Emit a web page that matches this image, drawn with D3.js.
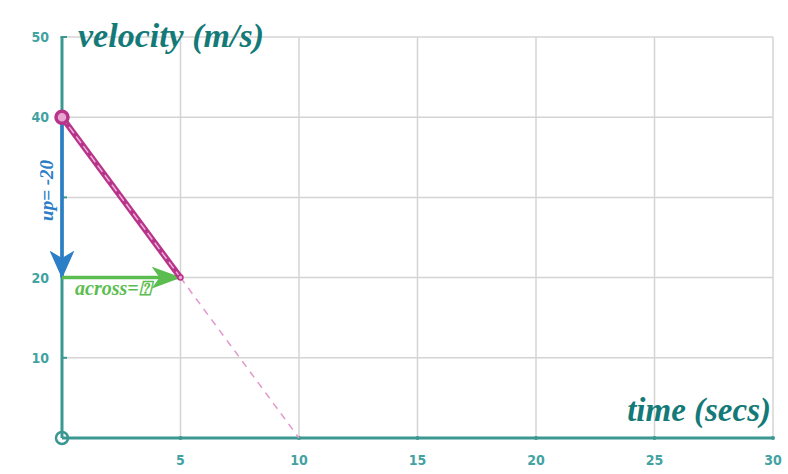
<!DOCTYPE html>
<html>
<head>
<meta charset="utf-8">
<script src="https://cdn.jsdelivr.net/npm/d3@7"></script>
<style>
  body { margin: 0; background: #fff; }
  svg { display: block; }
  .tick-label { font-family: "DejaVu Sans", sans-serif; font-stretch: condensed; font-weight: bold; font-size: 14px; fill: #43a2a2; }
  .title { font-family: "Liberation Serif", serif; font-style: italic; font-weight: bold; fill: #147a78; }
</style>
</head>
<body>
<svg id="chart" width="788" height="474"></svg>
<script>
// axis ticks
var xTicks = [5, 10, 15, 20, 25, 30];
var yTicks = [10, 20, 30, 40, 50];
var yLabels = [10, 20, 40, 50];   // 30 is hidden behind the "up" label

// the line: velocity against time
var segment = [{t: 0, v: 40}, {t: 5, v: 20}];
var extension = [{t: 5, v: 20}, {t: 10, v: 0}];

// rise / run arrows
var upArrow = {t1: 0, v1: 40, t2: 0, v2: 20, label: "up= -20"};
var acrossArrow = {t1: 0, v1: 20, t2: 5, v2: 20, label: "across=\u2370"};

var svg = d3.select("#chart");

var x = d3.scaleLinear().domain([0, 30]).range([62, 773]);
var y = d3.scaleLinear().domain([0, 50]).range([438, 37]);

var teal = "#3a9792";

// grid
var grid = svg.append("g").attr("class", "grid");
grid.selectAll("line.gx")
    .data(xTicks)
    .enter().append("line")
    .attr("x1", function(d) { return x(d); })
    .attr("x2", function(d) { return x(d); })
    .attr("y1", y(0))
    .attr("y2", y(50))
    .attr("stroke", "#d4d4d4")
    .attr("stroke-width", 1.5);
grid.selectAll("line.gy")
    .data(yTicks)
    .enter().append("line")
    .attr("x1", x(0))
    .attr("x2", x(30))
    .attr("y1", function(d) { return y(d); })
    .attr("y2", function(d) { return y(d); })
    .attr("stroke", "#d4d4d4")
    .attr("stroke-width", 1.5);

// axes
svg.append("line")
    .attr("x1", x(0)).attr("x2", x(30))
    .attr("y1", y(0)).attr("y2", y(0))
    .attr("stroke", teal).attr("stroke-width", 3);
svg.append("line")
    .attr("x1", x(0)).attr("x2", x(0))
    .attr("y1", y(0)).attr("y2", y(50))
    .attr("stroke", teal).attr("stroke-width", 3);
// small top tick
svg.append("line")
    .attr("x1", x(0) - 1.5).attr("x2", x(0) + 5)
    .attr("y1", y(50)).attr("y2", y(50))
    .attr("stroke", teal).attr("stroke-width", 2);

// tick marks
svg.selectAll("circle.xt")
    .data(xTicks)
    .enter().append("circle")
    .attr("cx", function(d) { return x(d); })
    .attr("cy", y(0))
    .attr("r", 2)
    .attr("fill", teal);
svg.selectAll("line.yt")
    .data([10, 20, 30, 40])
    .enter().append("line")
    .attr("x1", x(0))
    .attr("x2", x(0) + 5)
    .attr("y1", function(d) { return y(d); })
    .attr("y2", function(d) { return y(d); })
    .attr("stroke", teal).attr("stroke-width", 2);

// tick labels
svg.selectAll("text.xl")
    .data(xTicks)
    .enter().append("text")
    .attr("class", "tick-label")
    .attr("x", function(d) { return x(d); })
    .attr("y", y(0) + 27)
    .attr("text-anchor", "middle")
    .text(function(d) { return d; });
svg.selectAll("text.yl")
    .data(yLabels)
    .enter().append("text")
    .attr("class", "tick-label")
    .attr("x", x(0) - 13)
    .attr("y", function(d) { return y(d) + 5; })
    .attr("text-anchor", "end")
    .text(function(d) { return d; });

// origin circle
svg.append("circle")
    .attr("cx", x(0)).attr("cy", y(0)).attr("r", 6)
    .attr("fill", "none").attr("stroke", teal).attr("stroke-width", 2.5);

// axis titles
svg.append("text")
    .attr("class", "title")
    .attr("x", 78).attr("y", 47)
    .attr("font-size", 34)
    .text("velocity (m/s)");
svg.append("text")
    .attr("class", "title")
    .attr("x", 771).attr("y", 421)
    .attr("text-anchor", "end")
    .attr("font-size", 33)
    .text("time (secs)");

var line = d3.line()
    .x(function(d) { return x(d.t); })
    .y(function(d) { return y(d.v); });

// dashed extension
svg.append("path")
    .attr("d", line(extension))
    .attr("fill", "none")
    .attr("stroke", "#e497cb")
    .attr("stroke-width", 1.5)
    .attr("stroke-dasharray", "7,6");

// arrows
var defs = svg.append("defs");
function marker(id, color, w, h) {
    defs.append("marker")
        .attr("id", id)
        .attr("viewBox", "0 0 30 24")
        .attr("refX", 29).attr("refY", 12)
        .attr("markerWidth", w).attr("markerHeight", h)
        .attr("markerUnits", "userSpaceOnUse")
        .attr("orient", "auto")
        .attr("preserveAspectRatio", "none")
        .append("path")
        .attr("d", "M0,0 L30,12 L0,24 L8,12 Z")
        .attr("fill", color);
}
marker("arrow-blue", "#2c7ec6", 28, 25);
marker("arrow-green", "#5bbd4f", 30, 22);

svg.append("line")
    .attr("x1", x(upArrow.t1)).attr("y1", y(upArrow.v1))
    .attr("x2", x(upArrow.t2)).attr("y2", y(upArrow.v2))
    .attr("stroke", "#2c7ec6").attr("stroke-width", 3.5)
    .attr("marker-end", "url(#arrow-blue)");
svg.append("line")
    .attr("x1", x(acrossArrow.t1)).attr("y1", y(acrossArrow.v1))
    .attr("x2", x(acrossArrow.t2)).attr("y2", y(acrossArrow.v2))
    .attr("stroke", "#5bbd4f").attr("stroke-width", 3.5)
    .attr("marker-end", "url(#arrow-green)");

// arrow labels
var upMid = (y(upArrow.v1) + y(upArrow.v2)) / 2 - 7;
svg.append("text")
    .attr("transform", "translate(" + (x(0) - 9) + "," + upMid + ") rotate(-90)")
    .attr("text-anchor", "middle")
    .attr("font-family", "Liberation Serif, serif")
    .attr("font-style", "italic").attr("font-weight", "bold")
    .attr("font-size", 19)
    .attr("fill", "#2c7ec6")
    .text(upArrow.label);
svg.append("text")
    .attr("x", x(0) + 13).attr("y", y(acrossArrow.v1) + 17)
    .attr("font-family", "Liberation Serif, serif")
    .attr("font-style", "italic").attr("font-weight", "bold")
    .attr("font-size", 20)
    .attr("fill", "#5bbd4f")
    .text(acrossArrow.label);

// main segment: thick magenta with dashed light centre
svg.append("path")
    .attr("d", line(segment))
    .attr("fill", "none")
    .attr("stroke", "#b8348a")
    .attr("stroke-width", 6);
svg.append("path")
    .attr("d", line(segment))
    .attr("fill", "none")
    .attr("stroke", "#eab2d6")
    .attr("stroke-width", 1.5)
    .attr("stroke-dasharray", "8,4");

// end points
svg.append("circle")
    .attr("cx", x(segment[0].t)).attr("cy", y(segment[0].v)).attr("r", 6)
    .attr("fill", "#e8a6d0").attr("stroke", "#b8348a").attr("stroke-width", 3.5);
svg.append("circle")
    .attr("cx", x(segment[1].t)).attr("cy", y(segment[1].v)).attr("r", 2.5)
    .attr("fill", "#e8a6d0").attr("stroke", "#b8348a").attr("stroke-width", 1.5);
</script>
</body>
</html>
